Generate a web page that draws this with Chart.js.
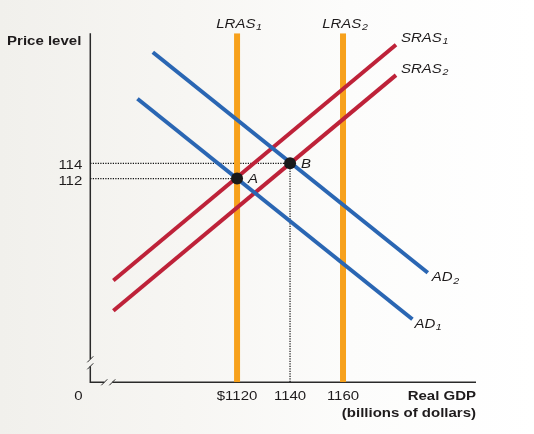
<!DOCTYPE html>
<html>
<head>
<script src="https://cdn.jsdelivr.net/npm/chart.js"></script>
<style>
  html, body { margin: 0; padding: 0; }
  body {
    width: 534px; height: 434px; overflow: hidden;
    background: linear-gradient(90deg, #f1f0ec 0%, #f7f6f3 35%, #fcfcfb 65%, #ffffff 100%);
  }
</style>
</head>
<body>
<canvas id="asChart" width="534" height="434"></canvas>
<script>
// axis ranges (real GDP in billions, price level)
const gdpMin = 1064.6, gdpMax = 1210.2;
const priceMin = 85.2, priceMax = 131.1;

const xTicks = [1120, 1140, 1160];
const xTickLabels = ['$1120', '1140', '1160'];
const yTicks = [112, 114];

// curves: two end points each
const sras1X = [1073.3, 1180.0], sras1Y = [98.6, 129.6];
const sras2X = [1073.3, 1180.0], sras2Y = [94.6, 125.6];
const ad1X = [1082.4, 1186.2], ad1Y = [122.5, 93.5];
const ad2X = [1088.2, 1192.0], ad2Y = [128.6, 99.6];
const lrasGDP = [1120, 1160];

// equilibrium points
const eqNames = ['A', 'B'];
const eqGDP = [1120, 1140];
const eqPrice = [112, 114];

const ORANGE = '#f7a11c', RED = '#be2239', BLUE = '#2a66b3', INK = '#1e1b1c';
const SX = 1.12; // text in the source is drawn a bit wide

function pts(xs, ys) { return xs.map((x, i) => ({ x: x, y: ys[i] })); }

function line(data, color, width, order, dash) {
  return {
    data: data, showLine: true, borderColor: color, borderWidth: width,
    pointRadius: 0, borderDash: dash || [], order: order, fill: false
  };
}

function label(ctx, x, y, text, sub, o) {
  o = o || {};
  ctx.save();
  ctx.translate(x, y);
  ctx.scale(SX, 1);
  ctx.fillStyle = INK;
  ctx.textBaseline = 'alphabetic';
  ctx.textAlign = 'left';
  const fam = '"Liberation Sans", Arial, sans-serif';
  const main = (o.italic ? 'italic ' : '') + (o.bold ? 'bold ' : '') + '13.4px ' + fam;
  const small = (o.italic ? 'italic ' : '') + '9.5px ' + fam;
  ctx.font = main;
  const w = ctx.measureText(text).width;
  let sw = 0;
  if (sub) { ctx.font = small; sw = ctx.measureText(sub).width + 0.5; }
  const tot = w + sw;
  let start = 0;
  if (o.align === 'center') start = -tot / 2;
  if (o.align === 'right') start = -tot;
  ctx.font = main;
  ctx.fillText(text, start, 0);
  if (sub) { ctx.font = small; ctx.fillText(sub, start + w + 0.5, 2.5); }
  ctx.restore();
}

function slash(ctx, x, y) {
  ctx.beginPath();
  ctx.moveTo(x - 3, y + 3);
  ctx.lineTo(x + 3, y - 3);
  ctx.stroke();
}

const axesPlugin = {
  id: 'axes',
  beforeDatasetsDraw(chart) {
    const ctx = chart.ctx, a = chart.chartArea;
    ctx.save();
    ctx.strokeStyle = '#2a2a2a';
    ctx.lineWidth = 1.5;
    // y axis with break
    ctx.beginPath();
    ctx.moveTo(a.left, a.top); ctx.lineTo(a.left, a.bottom - 23);
    ctx.moveTo(a.left, a.bottom - 16); ctx.lineTo(a.left, a.bottom);
    // x axis with break
    ctx.lineTo(a.left + 14, a.bottom);
    ctx.moveTo(a.left + 22, a.bottom); ctx.lineTo(a.right, a.bottom);
    ctx.stroke();
    ctx.lineWidth = 1;
    slash(ctx, a.left, a.bottom - 23);
    slash(ctx, a.left, a.bottom - 16);
    slash(ctx, a.left + 14, a.bottom);
    slash(ctx, a.left + 22, a.bottom);
    ctx.restore();
  },
  afterDatasetsDraw(chart) {
    const ctx = chart.ctx, a = chart.chartArea;
    const xs = chart.scales.x, ys = chart.scales.y;
    xTicks.forEach((v, i) => label(ctx, xs.getPixelForValue(v), a.bottom + 17.5, xTickLabels[i], '', { align: 'center' }));
    yTicks.forEach(v => label(ctx, a.left - 8, ys.getPixelForValue(v) + 6, String(v), '', { align: 'right' }));
    label(ctx, a.left - 12, a.bottom + 17.5, '0', '', { align: 'center' });
    label(ctx, a.left - 9, 44.5, 'Price level', '', { bold: true, align: 'right' });
    label(ctx, a.right, a.bottom + 17.5, 'Real GDP', '', { bold: true, align: 'right' });
    label(ctx, a.right, a.bottom + 34.5, '(billions of dollars)', '', { bold: true, align: 'right' });

    label(ctx, xs.getPixelForValue(lrasGDP[0]) + 2, 27.7, 'LRAS', '1', { italic: true, align: 'center' });
    label(ctx, xs.getPixelForValue(lrasGDP[1]) + 2, 27.5, 'LRAS', '2', { italic: true, align: 'center' });
    label(ctx, xs.getPixelForValue(sras1X[1]) + 5, ys.getPixelForValue(sras1Y[1]) - 3, 'SRAS', '1', { italic: true });
    label(ctx, xs.getPixelForValue(sras2X[1]) + 5, ys.getPixelForValue(sras2Y[1]) - 2.5, 'SRAS', '2', { italic: true });
    label(ctx, xs.getPixelForValue(ad2X[1]) + 4, ys.getPixelForValue(ad2Y[1]) + 8.5, 'AD', '2', { italic: true });
    label(ctx, xs.getPixelForValue(ad1X[1]) + 2, ys.getPixelForValue(ad1Y[1]) + 8.5, 'AD', '1', { italic: true });
    eqNames.forEach((n, i) => label(ctx, xs.getPixelForValue(eqGDP[i]) + 11, ys.getPixelForValue(eqPrice[i]) + 4.5, n, '', { italic: true }));
  }
};

const datasets = [
  {
    data: pts(eqGDP, eqPrice), showLine: false, order: 0,
    pointRadius: 6, pointBackgroundColor: '#1a1a1a', pointBorderWidth: 0
  },
  line(pts(ad1X, ad1Y), BLUE, 4, 1),
  line(pts(ad2X, ad2Y), BLUE, 4, 1),
  line(pts(sras1X, sras1Y), RED, 4, 2),
  line(pts(sras2X, sras2Y), RED, 4, 2),
  line(pts([lrasGDP[0], lrasGDP[0]], [priceMin, priceMax]), ORANGE, 6, 3),
  line(pts([lrasGDP[1], lrasGDP[1]], [priceMin, priceMax]), ORANGE, 6, 3),
  // guides to the equilibrium points
  line(pts([gdpMin, eqGDP[0]], [eqPrice[0], eqPrice[0]]), '#111', 1.2, 4, [1.2, 1.3]),
  line(pts([gdpMin, eqGDP[1]], [eqPrice[1], eqPrice[1]]), '#111', 1.2, 4, [1.2, 1.3]),
  line(pts([eqGDP[1], eqGDP[1]], [eqPrice[1], priceMin]), '#111', 1.2, 4, [1.2, 1.3])
];

new Chart(document.getElementById('asChart'), {
  type: 'scatter',
  data: { datasets: datasets },
  options: {
    responsive: false,
    animation: false,
    layout: { padding: { left: 90.3, top: 33.3, right: 58, bottom: 51.7 } },
    plugins: { legend: { display: false }, tooltip: { enabled: false } },
    scales: {
      x: { type: 'linear', min: gdpMin, max: gdpMax, display: false },
      y: { type: 'linear', min: priceMin, max: priceMax, display: false }
    }
  },
  plugins: [axesPlugin]
});
</script>
</body>
</html>
